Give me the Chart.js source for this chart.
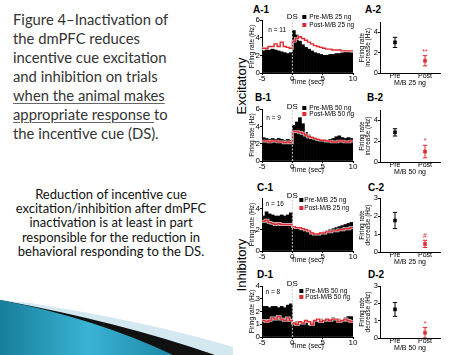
<!DOCTYPE html>
<html><head><meta charset="utf-8">
<script src="https://cdn.jsdelivr.net/npm/chart.js@4.4.1/dist/chart.umd.min.js"></script>
<style>
html,body{margin:0;padding:0;background:#fff;}
body{width:474px;height:355px;position:relative;overflow:hidden;}
canvas{position:absolute;}
.sw{position:absolute;left:0;top:0;width:474px;height:355px;}
.plab{position:absolute;font:bold 10px "Liberation Sans",Arial,sans-serif;color:#000;line-height:10px;white-space:nowrap;}
#t1{position:absolute;left:13px;top:10px;font:14.8px Lato,sans-serif;line-height:19px;color:#333;white-space:nowrap;}
#t1 u{text-decoration-color:#666;text-decoration-thickness:1px;text-underline-offset:2px;}
#t2{position:absolute;left:0;width:222px;top:187px;font:13px Lato,sans-serif;line-height:14.2px;color:#111;text-align:center;white-space:nowrap;}
.rot{position:absolute;font:13px "Liberation Sans",Arial,sans-serif;color:#000;white-space:nowrap;transform:translate(-50%,-50%) rotate(-90deg);}
</style></head><body>
<div class="sw" style="background:#d3e8f1;clip-path:path('M30,303 Q150,322 233,347 L233,355 L0,355 L0,300 Z');"></div>
<div class="sw" style="background:#111;clip-path:path('M0,300 Q120,322 215,355 L0,355 Z');"></div>
<div class="sw" style="background:linear-gradient(90deg,#167e9b 0px,#3ab3d4 88px,#1a87a6 175px,#1a87a6 474px);clip-path:path('M0,300 Q95,318 173,355 L0,355 Z');"></div>

<div id="t1">Figure 4–Inactivation of<br>the dmPFC reduces<br>incentive cue excitation<br>and inhibition on trials<br><u>when the animal makes</u><br><u>appropriate response </u>to<br>the incentive cue (DS).</div>
<div id="t2">Reduction of incentive cue<br>excitation/inhibition after dmPFC<br>inactivation is at least in part<br>responsible for the reduction in<br>behavioral responding to the DS.</div>
<div class="rot" style="left:241px;top:86px;">Excitatory</div>
<div class="rot" style="left:241px;top:265px;">Inhibitory</div>

<div class="plab" style="left:253px;top:5px;">A-1</div>
<div class="plab" style="left:255px;top:93px;">B-1</div>
<div class="plab" style="left:257px;top:183px;">C-1</div>
<div class="plab" style="left:257px;top:270px;">D-1</div>
<div class="plab" style="left:365px;top:5px;">A-2</div>
<div class="plab" style="left:367px;top:93px;">B-2</div>
<div class="plab" style="left:368px;top:183px;">C-2</div>
<div class="plab" style="left:368px;top:270px;">D-2</div>

<canvas id="h1" width="122" height="78" style="left:240px;top:8px;"></canvas>
<canvas id="h2" width="122" height="77" style="left:240px;top:97px;"></canvas>
<canvas id="h3" width="122" height="78" style="left:240px;top:186px;"></canvas>
<canvas id="h4" width="122" height="76" style="left:240px;top:274px;"></canvas>
<canvas id="d1" width="98" height="73" style="left:350px;top:14px;"></canvas>
<canvas id="d2" width="98" height="74" style="left:350px;top:102px;"></canvas>
<canvas id="d3" width="98" height="76" style="left:350px;top:190px;"></canvas>
<canvas id="d4" width="98" height="74" style="left:350px;top:278px;"></canvas>

<script>
// ---------- DATA ----------
const binStarts = [-5,-4.5,-4,-3.5,-3,-2.5,-2,-1.5,-1,-0.5,0,0.5,1,1.5,2,2.5,3,3.5,4,4.5,5,5.5,6,6.5,7,7.5,8,8.5,9,9.5];
const binWidth = 0.5;
const timeMin = -5, timeMax = 10;
const timeTicks = [-5, 0, 5, 10];

const preA1  = [2.5,2.7,2.6,2.7,2.6,2.5,2.4,2.3,2.2,2.3, 4.8,4.3,3.6,3.2,2.9,2.7,2.5,2.3,2.2,2.1, 2.0,2.0,2.1,2.1,2.2,2.2,2.3,2.4,2.4,2.3];
const postA1 = [2.8,2.8,3.0,3.0,3.3,3.0,3.5,3.0,2.9,2.8, 3.6,3.9,4.1,3.9,3.7,3.5,3.3,3.1,3.0,2.9, 2.8,2.7,2.7,2.6,2.6,2.6,2.5,2.5,2.5,2.5];
const preB1  = [2.7,2.6,2.5,2.6,2.5,2.6,2.5,2.4,2.5,2.4, 4.1,4.5,5.0,4.3,3.3,3.0,2.8,2.6,2.5,2.4, 2.4,2.4,2.5,2.6,2.8,2.9,2.7,2.6,2.7,2.6];
const postB1 = [2.3,2.3,2.2,2.3,2.3,2.2,2.2,2.1,2.2,2.1, 3.4,3.4,3.3,3.2,3.0,2.8,2.7,2.6,2.5,2.4, 2.4,2.3,2.3,2.2,2.2,2.3,2.3,2.2,2.2,2.3];
const preC1  = [3.3,3.7,3.5,3.4,3.3,3.3,3.4,3.3,3.4,3.6, 2.2,2.1,2.0,2.0,1.9,1.8,1.6,1.5,1.6,1.7, 1.8,1.9,2.0,2.1,2.2,2.3,2.4,2.5,2.6,2.7];
const postC1 = [2.8,2.9,2.7,2.6,2.5,2.6,2.5,2.5,2.5,2.5, 2.3,2.2,2.2,2.1,2.0,1.9,1.7,1.6,1.6,1.7, 1.7,1.8,1.8,1.9,1.9,2.0,2.0,2.1,2.1,2.2];
const preD1  = [2.4,2.4,2.3,2.4,2.4,2.3,2.4,2.3,2.5,2.6, 1.1,1.2,1.0,1.1,1.2,0.9,1.2,1.3,1.2,1.4, 1.3,1.4,1.4,1.5,1.3,1.4,1.3,1.5,1.6,1.6];
const postD1 = [1.3,1.2,1.3,1.5,1.4,1.6,1.4,1.3,1.5,1.3, 1.1,1.0,1.2,1.1,1.3,1.2,1.0,1.3,1.4,1.2, 1.3,1.4,1.3,1.4,1.4,1.2,1.3,1.4,1.3,1.2];

const histYMax = [6, 6, 5, 4];
const nCells = [11, 9, 16, 8];
const doses = ['25 ng', '50 ng', '25 ng', '50 ng'];

const groupLabels = ['Pre', 'Post'];
const dotMeans = [[3.0, 1.2], [2.85, 1.0], [1.75, 0.45], [1.65, 0.3]];
const dotErrs  = [[0.5, 0.5], [0.35, 0.6], [0.45, 0.2], [0.4, 0.3]];
const dotYMax = [5, 5, 3, 3];
const dotYTitle = [['Firing rate','increase (Hz)'],['Firing rate','increase (Hz)'],['Firing rate','decrease (Hz)'],['Firing rate','decrease (Hz)']];
const sigMarks = ['**', '*', '#', '*'];

// ---------- STYLE ----------
const F = '"Liberation Sans", Arial, sans-serif';
const RED = '#e2282e';
Chart.defaults.font.family = F;
Chart.defaults.color = '#000';

const panelText = {
  id: 'panelText',
  afterDatasetsDraw(chart, args, opts) {
    const ctx = chart.ctx, xs = chart.scales.x, ys = chart.scales.y, top = chart.chartArea.top;
    (opts.items || []).forEach(it => {
      ctx.save();
      const x = xs.getPixelForValue(it.x) + (it.dx || 0);
      const y = (it.y !== undefined ? ys.getPixelForValue(it.y) : top) + (it.dy || 0);
      if (it.rect) {
        ctx.fillStyle = it.color;
        ctx.fillRect(x - it.rect / 2, y - it.rect / 2, it.rect, it.rect);
      } else {
        ctx.font = it.font;
        ctx.fillStyle = it.color || '#000';
        ctx.textAlign = it.align || 'left';
        ctx.textBaseline = 'middle';
        ctx.fillText(it.text, x, y);
      }
      ctx.restore();
    });
  }
};
Chart.register(panelText);

const histLayout = [
  {ds: -3, r1: -3, r2: 5, nx: -2.5, ny: 10, sq: 12, tx: 17},
  {ds: -2, r1: -1, r2: 5, nx: -3.1, ny: 9, sq: 12, tx: 17},
  {ds: -2, r1: 2, r2: 10, nx: -2.9, ny: 6, sq: 9, tx: 12},
  {ds: -2, r1: 5, r2: 11, nx: -3.2, ny: 6, sq: 9, tx: 13}
];

function axisCommon(extra) {
  return Object.assign({
    grid: {display: true, drawOnChartArea: false, drawTicks: true, tickLength: 2, color: '#000', lineWidth: 1},
    border: {display: true, color: '#000', width: 1}
  }, extra);
}

function makeHist(id, k, pre, post) {
  const yMax = histYMax[k];
  const L = histLayout[k];
  const preLabel = 'Pre-M/B ' + doses[k];
  const postLabel = 'Post-M/B ' + doses[k];
  const bars = binStarts.map((s, i) => ({x: s + binWidth / 2, y: pre[i]}));
  const steps = binStarts.map((s, i) => ({x: s, y: post[i]})).concat([{x: timeMax, y: post[post.length - 1]}]);
  new Chart(document.getElementById(id), {
    type: 'bar',
    data: {datasets: [
      {type: 'line', label: 'DS', data: [{x: 0, y: 0}, {x: 0, y: yMax}], borderColor: '#c9c9c9', borderWidth: 1, borderDash: [2, 1.5], pointRadius: 0, order: 0},
      {type: 'line', label: postLabel, data: steps, stepped: true, borderColor: RED, borderWidth: 1.4, pointRadius: 0, order: 1},
      {type: 'line', label: 'halo', data: steps, stepped: true, borderColor: 'rgba(255,255,255,0.8)', borderWidth: 2.8, pointRadius: 0, order: 2},
      {type: 'bar', label: preLabel, data: bars, backgroundColor: '#000', borderWidth: 0, barPercentage: 1, categoryPercentage: 1, order: 3}
    ]},
    options: {
      responsive: false, animation: false, events: [],
      layout: {padding: {top: 12, right: 9, left: 0, bottom: 0}},
      plugins: {
        legend: {display: false}, tooltip: {enabled: false},
        panelText: {items: [
          {text: 'DS', x: 0, dy: L.ds, font: '8px ' + F, align: 'center'},
          {rect: 4, color: '#000', x: 0, dx: L.sq, dy: L.r1},
          {text: preLabel, x: 0, dx: L.tx, dy: L.r1, font: '6.5px ' + F},
          {rect: 4, color: RED, x: 0, dx: L.sq, dy: L.r2},
          {text: postLabel, x: 0, dx: L.tx, dy: L.r2, font: '6.5px ' + F},
          {text: 'n = ' + nCells[k], x: L.nx, dy: L.ny, font: '6.5px ' + F, align: 'center', color: '#000'}
        ]}
      },
      scales: {
        x: axisCommon({
          type: 'linear', min: timeMin, max: timeMax, offset: false,
          grid: {display: true, offset: false, drawOnChartArea: false, tickLength: 2, color: '#000'},
          afterBuildTicks(s) { s.ticks = timeTicks.map(v => ({value: v})); },
          ticks: {font: {size: 8, lineHeight: 1}, color: '#000', padding: 0, maxRotation: 0, autoSkip: false},
          title: {display: true, text: 'Time (sec)', font: {size: 7, lineHeight: 1}, color: '#000', padding: 0},
          afterFit(s) { s.height = 13; s.paddingLeft = 0; s.paddingRight = 0; }
        }),
        y: axisCommon({
          min: 0, max: yMax,
          ticks: {stepSize: 1, font: {size: 8, lineHeight: 1}, color: '#000', padding: 0},
          title: {display: true, text: 'Firing rate (Hz)', font: {size: 6.5, lineHeight: 1}, color: '#000', padding: {top: 8.75, bottom: 0}},
          afterFit(s) { s.width = 22; s.paddingTop = 0; s.paddingBottom = 0; }
        })
      }
    }
  });
}

function makeDot(id, k) {
  const m = dotMeans[k], e = dotErrs[k];
  new Chart(document.getElementById(id), {
    type: 'line',
    data: {labels: groupLabels, datasets: [
      {label: 'means', data: groupLabels.map((g, i) => ({x: g, y: m[i]})), showLine: false, pointStyle: 'rect', pointRadius: 2.2,
        pointBackgroundColor: ['#000', RED], pointBorderColor: ['#000', RED], pointBorderWidth: 0.5, order: 0},
      {label: 'errPre', data: [{x: groupLabels[0], y: m[0] - e[0]}, {x: groupLabels[0], y: m[0] + e[0]}], borderColor: '#000', borderWidth: 1,
        pointStyle: 'line', pointRadius: 2.2, pointBorderColor: '#000', pointBorderWidth: 1, order: 1},
      {label: 'errPost', data: [{x: groupLabels[1], y: m[1] - e[1]}, {x: groupLabels[1], y: m[1] + e[1]}], borderColor: RED, borderWidth: 1,
        pointStyle: 'line', pointRadius: 2.2, pointBorderColor: RED, pointBorderWidth: 1, order: 1}
    ]},
    options: {
      responsive: false, animation: false, events: [],
      layout: {padding: {top: 8, right: 8, left: 0, bottom: 0}},
      plugins: {
        legend: {display: false}, tooltip: {enabled: false},
        panelText: {items: [
          {text: sigMarks[k], x: groupLabels[1], y: m[1] + e[1], dy: -4, font: '7px ' + F, align: 'center', color: RED}
        ]}
      },
      scales: {
        x: axisCommon({
          type: 'category', offset: true,
          grid: {display: true, offset: false, drawOnChartArea: false, drawTicks: false, color: '#000'},
          ticks: {font: {size: 7, lineHeight: 1}, color: '#000', padding: 0},
          title: {display: true, text: 'M/B ' + doses[k], font: {size: 7, lineHeight: 1}, color: '#000', padding: 0},
          afterFit(s) { s.height = 14; s.paddingLeft = 0; s.paddingRight = 0; }
        }),
        y: axisCommon({
          min: 0, max: dotYMax[k],
          ticks: {stepSize: 1, font: {size: 7.5, lineHeight: 1}, color: '#000', padding: 0},
          title: {display: true, text: dotYTitle[k], font: {size: 6.5, lineHeight: 1}, color: '#000', padding: {top: 8.75, bottom: 0}},
          afterFit(s) { s.width = 30; s.paddingTop = 0; s.paddingBottom = 0; }
        })
      }
    }
  });
}

makeHist('h1', 0, preA1, postA1);
makeHist('h2', 1, preB1, postB1);
makeHist('h3', 2, preC1, postC1);
makeHist('h4', 3, preD1, postD1);
makeDot('d1', 0);
makeDot('d2', 1);
makeDot('d3', 2);
makeDot('d4', 3);
</script>
</body></html>
